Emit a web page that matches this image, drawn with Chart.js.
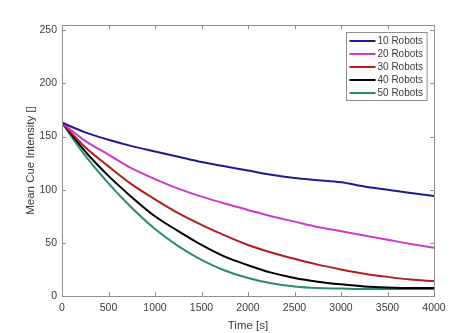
<!DOCTYPE html>
<html>
<head>
<meta charset="utf-8">
<script src="https://cdn.jsdelivr.net/npm/chart.js@4.4.1/dist/chart.umd.min.js"></script>
<style>
  html, body { margin: 0; padding: 0; background: #fff; }
  #wrap { width: 474px; height: 333px; }
</style>
</head>
<body>
<div id="wrap"><canvas id="cueChart" width="474" height="333"></canvas></div>
<script>
// Время, с
const timeSec = [0, 250, 500, 750, 1000, 1250, 1500, 1750, 2000, 2250, 2500, 2750, 3000, 3250, 3500, 3750, 4000];

// Средняя интенсивность сигнала по числу роботов
const robots10 = [163, 154, 147, 141, 136, 131, 126, 122, 118, 114, 111, 109, 107, 103, 100, 97, 94];
const robots20 = [163, 146, 133, 120, 110, 101, 93.5, 87, 81, 75, 70, 65, 61, 57, 53, 49, 45.5];
const robots30 = [163, 140, 122, 105, 91, 78, 67, 57, 48, 41, 35, 29.5, 25, 21, 18, 15.5, 14];
const robots40 = [163, 136, 113, 93, 75, 61, 48, 37, 29, 22, 17, 13.5, 11, 9, 8, 7.5, 7.5];
const robots50 = [163, 132, 106, 83, 63, 47, 34, 24, 17, 12, 9, 7.5, 7, 6.5, 6.5, 6.5, 6.5];

const seriesLabels = ['10 Robots', '20 Robots', '30 Robots', '40 Robots', '50 Robots'];
const seriesColors = ['#1c1c8f', '#cc3acc', '#b01e1e', '#000000', '#2a8a74'];

const xTicks = [0, 500, 1000, 1500, 2000, 2500, 3000, 3500, 4000];
const yTicks = [0, 50, 100, 150, 200, 250];

const FONT = '"Liberation Sans", Arial, sans-serif';
const AXIS_GREY = '#8f8f8f';
const TEXT_GREY = '#3c3c3c';

function toPoints(values) {
    return values.map((v, i) => ({ x: timeSec[i], y: v }));
}

// Рамка и засечки внутрь, как в MATLAB
const boxPlugin = {
    id: 'matlabBox',
    afterDraw(chart) {
        const { ctx, chartArea: a, scales } = chart;
        const len = 4;
        ctx.save();
        ctx.strokeStyle = AXIS_GREY;
        ctx.lineWidth = 1;
        ctx.strokeRect(Math.round(a.left) + 0.5, Math.round(a.top) + 0.5,
            Math.round(a.right - a.left), Math.round(a.bottom - a.top));
        ctx.beginPath();
        xTicks.forEach(t => {
            const px = Math.round(scales.x.getPixelForValue(t)) + 0.5;
            ctx.moveTo(px, a.bottom); ctx.lineTo(px, a.bottom - len);
            ctx.moveTo(px, a.top); ctx.lineTo(px, a.top + len);
        });
        yTicks.forEach(t => {
            const py = Math.round(scales.y.getPixelForValue(t)) + 0.5;
            ctx.moveTo(a.left, py); ctx.lineTo(a.left + len, py);
            ctx.moveTo(a.right, py); ctx.lineTo(a.right - len, py);
        });
        ctx.stroke();

        // Легенда в правом верхнем углу
        ctx.font = '10px ' + FONT;
        const sets = chart.data.datasets;
        const textW = Math.max(...sets.map(d => ctx.measureText(d.label).width));
        const lineLen = 26, rowH = 13;
        const boxW = 3 + lineLen + 2 + textW + 4;
        const boxH = rowH * sets.length + 3;
        const bx = Math.round(a.right - 7 - boxW) + 0.5;
        const by = Math.round(a.top + 7) + 0.5;
        ctx.fillStyle = '#fff';
        ctx.fillRect(bx, by, boxW, boxH);
        ctx.strokeStyle = AXIS_GREY;
        ctx.strokeRect(bx, by, boxW, boxH);
        ctx.textBaseline = 'middle';
        sets.forEach((d, i) => {
            const cy = by + 8.5 + i * rowH;
            ctx.strokeStyle = d.borderColor;
            ctx.lineWidth = 2;
            ctx.beginPath();
            ctx.moveTo(bx + 3, cy); ctx.lineTo(bx + 3 + lineLen, cy);
            ctx.stroke();
            ctx.fillStyle = TEXT_GREY;
            ctx.fillText(d.label, bx + 3 + lineLen + 2, cy);
        });
        ctx.restore();
    }
};

const allSeries = [robots10, robots20, robots30, robots40, robots50];

new Chart(document.getElementById('cueChart'), {
    type: 'line',
    data: {
        datasets: allSeries.map((vals, i) => ({
            label: seriesLabels[i],
            data: toPoints(vals),
            borderColor: seriesColors[i],
            backgroundColor: seriesColors[i],
            borderWidth: 2,
            pointRadius: 0,
            cubicInterpolationMode: 'monotone',
            fill: false
        }))
    },
    options: {
        responsive: false,
        animation: false,
        layout: { padding: { left: 0, right: 40, top: 25, bottom: 0 } },
        plugins: {
            legend: { display: false },
            tooltip: { enabled: false }
        },
        scales: {
            x: {
                type: 'linear',
                min: 0,
                max: 4000,
                grid: { display: false, drawTicks: false },
                border: { display: false },
                afterBuildTicks: s => { s.ticks = xTicks.map(v => ({ value: v })); },
                afterFit: s => { s.height = 37; },
                ticks: {
                    color: TEXT_GREY,
                    font: { family: FONT, size: 10.5 },
                    padding: 6,
                    maxRotation: 0,
                    autoSkip: false,
                    callback: v => String(v)
                },
                title: {
                    display: true,
                    text: 'Time [s]',
                    color: TEXT_GREY,
                    font: { family: FONT, size: 11.5 },
                    padding: { top: 4, bottom: 0 }
                }
            },
            y: {
                min: 0,
                max: 255,
                grid: { display: false, drawTicks: false },
                border: { display: false },
                afterBuildTicks: s => { s.ticks = yTicks.map(v => ({ value: v })); },
                afterFit: s => { s.width = 62; },
                ticks: {
                    color: TEXT_GREY,
                    font: { family: FONT, size: 10.5 },
                    padding: 5,
                    callback: v => String(v)
                },
                title: {
                    display: true,
                    text: 'Mean Cue Intensity []',
                    color: TEXT_GREY,
                    font: { family: FONT, size: 11.5 },
                    padding: { top: 24, bottom: 0 }
                }
            }
        }
    },
    plugins: [boxPlugin]
});
</script>
</body>
</html>
